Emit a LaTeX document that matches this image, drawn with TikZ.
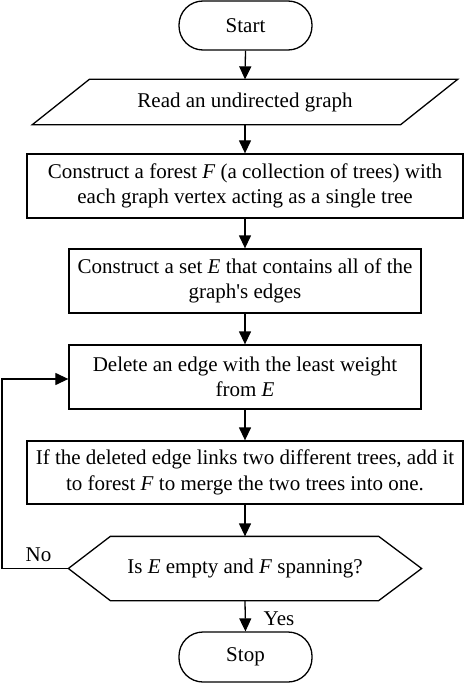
\documentclass[tikz,border=0pt]{standalone}
\usepackage{fontspec}
\setmainfont{Liberation Serif}[Ligatures=TeXOff]
\usetikzlibrary{arrows.meta}
\begin{document}
\begin{tikzpicture}[x=1bp,y=-1bp, line width=1.3bp,
  font=\fontsize{21bp}{25.5bp}\selectfont,
  shp/.style={rectangle, align=center, inner sep=0pt},
  box/.style={shp, draw},
  term/.style={shp, draw, rounded corners=24bp, minimum width=133bp, minimum height=49bp},
  arr/.style={-{Triangle[length=13bp,width=12bp]}},
  lbl/.style={inner sep=0pt}]
\useasboundingbox (0,0) rectangle (464,684);
\node[term] (start) at (245.5,25.5) {Start};
\node[shp, minimum width=424bp, minimum height=44bp] (read) at (245,102) {Read an undirected graph};
\draw (read.south west) -- ([xshift=-57bp]read.south east) -- (read.north east) -- ([xshift=57bp]read.north west) -- cycle;
\node[box, minimum width=436bp, minimum height=64bp] (forest) at (245,186) {Construct a forest \textit{F} (a collection of trees) with\\each graph vertex acting as a single tree};
\node[box, minimum width=352bp, minimum height=64bp] (set) at (245,281) {Construct a set \textit{E} that contains all of the\\graph's edges};
\node[box, minimum width=352bp, minimum height=64bp] (del) at (245,377) {Delete an edge with the least weight\\from \textit{E}};
\node[box, minimum width=436bp, minimum height=63bp] (merge) at (245,472.5) {If the deleted edge links two different trees, add it\\to forest \textit{F} to merge the two trees into one.};
\node[shp, minimum width=352bp, minimum height=63bp] (dec) at (245,568.5) {Is \textit{E} empty and \textit{F} spanning?};
\draw (dec.west) -- ([xshift=42bp]dec.north west) -- ([xshift=-43bp]dec.north east) -- (dec.east) -- ([xshift=-43bp]dec.south east) -- ([xshift=42bp]dec.south west) -- cycle;
\node[term, minimum height=50bp] (stop) at (245.5,657) {Stop};
\draw[arr] (start.south) -- (read.north);
\draw[arr] (read.south) -- (forest.north);
\draw[arr] (forest.south) -- (set.north);
\draw[arr] (set.south) -- (del.north);
\draw[arr] (del.south) -- (merge.north);
\draw[arr] (merge.south) -- (dec.north);
\draw[arr] (dec.south) -- (stop.north);
\coordinate (loop) at (2,568.5);
\draw[arr] (dec.west) -- (loop) |- ([yshift=-2bp]del.west);
\node[lbl] (no) at (38.5,555) {No};
\node[lbl] (yes) at (279,619) {Yes};
\end{tikzpicture}
\end{document}
